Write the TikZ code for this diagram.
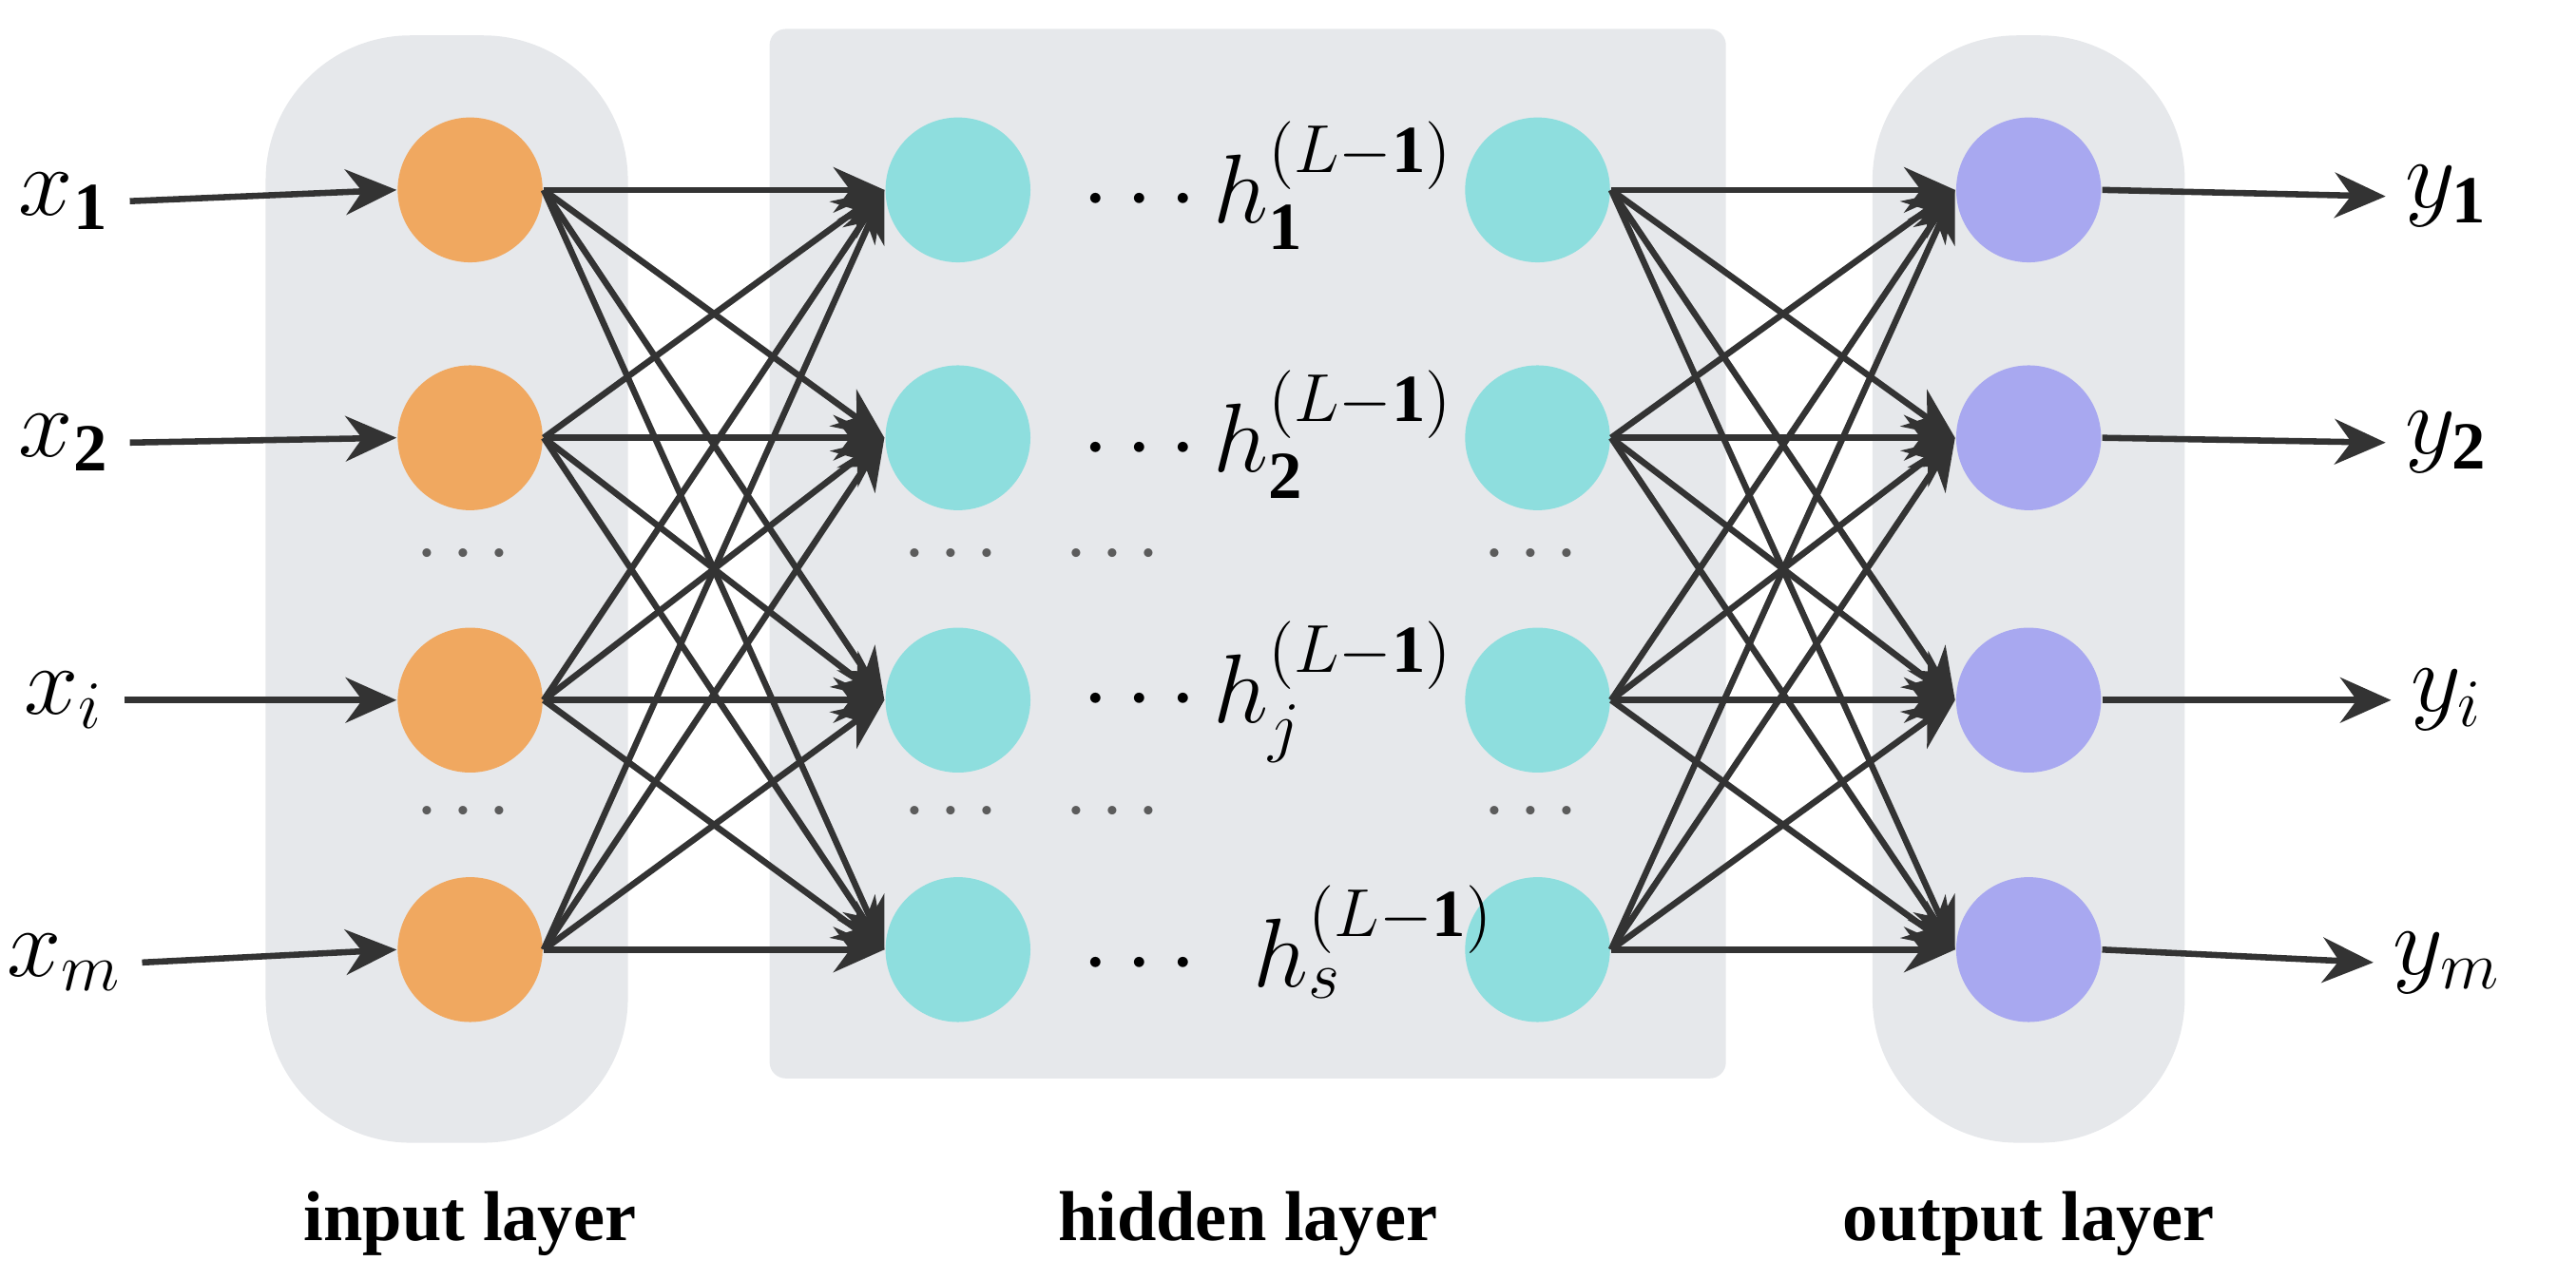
\documentclass[tikz,border=0pt]{standalone}
\usepackage{fontspec}
\setmainfont{Liberation Serif}
\usepackage{amsmath}
\usetikzlibrary{arrows.meta}
\definecolor{inc}{HTML}{F0A860}
\definecolor{hic}{HTML}{8EDEDE}
\definecolor{ouc}{HTML}{A8A8F0}
\definecolor{bgc}{HTML}{E6E8EB}
\definecolor{ac}{HTML}{333333}
\begin{document}
\begin{tikzpicture}[x=1cm,y=-1cm,
  nd/.style={circle,minimum size=0.9cm,inner sep=0pt},
  ar/.style={draw=ac,line width=1.1pt,-{Stealth[length=9pt,width=8pt]}},
  lb/.style={font=\fontsize{17}{20}\selectfont},
  dt/.style={font=\fontsize{14}{17}\selectfont,text=ac!80},
  ly/.style={font=\fontsize{12.5}{15}\selectfont\bfseries}]
\useasboundingbox (0,0) rectangle (16,7.95);
\fill[bgc,rounded corners=0.9cm] (1.65,0.22) rectangle (3.9,7.1);
\fill[bgc,rounded corners=0.1cm] (4.78,0.18) rectangle (10.72,6.7);
\fill[bgc,rounded corners=0.9cm] (11.63,0.22) rectangle (13.57,7.1);
\foreach \n/\y in {1/1.18,2/2.72,3/4.35,4/5.9}{
  \node[nd,fill=inc] (i\n) at (2.92,\y) {};
  \node[nd,fill=hic] (a\n) at (5.95,\y) {};
  \node[nd,fill=hic] (b\n) at (9.55,\y) {};
  \node[nd,fill=ouc] (o\n) at (12.6,\y) {};
}
\node[lb] (x1) at (0.4,1.25) {$x_{\mathbf 1}$};
\node[lb] (x2) at (0.4,2.75) {$x_{\mathbf 2}$};
\node[lb] (x3) at (0.4,4.35) {$x_i$};
\node[lb] (x4) at (0.4,5.98) {$x_m$};
\node[lb] (y1) at (15.2,1.22) {$y_{\mathbf 1}$};
\node[lb] (y2) at (15.2,2.75) {$y_{\mathbf 2}$};
\node[lb] (y3) at (15.2,4.35) {$y_i$};
\node[lb] (y4) at (15.2,5.98) {$y_m$};
\foreach \n in {1,...,4}{
  \draw[ar] (x\n.east) -- (i\n.west);
  \draw[ar] (o\n.east) -- (y\n.west);
  \foreach \m in {1,...,4}{
    \draw[ar] (i\n.east) -- (a\m.west);
    \draw[ar] (b\n.east) -- (o\m.west);
  }
}
\node[lb,anchor=west] (h1) at (6.6,1.15) {$\cdots h_{\mathbf 1}^{(L-\mathbf 1)}$};
\node[lb,anchor=west] (h2) at (6.6,2.7) {$\cdots h_{\mathbf 2}^{(L-\mathbf 1)}$};
\node[lb,anchor=west] (h3) at (6.6,4.3) {$\cdots h_j^{(L-\mathbf 1)}$};
\node[lb,anchor=west] (h4) at (6.6,5.85) {$\cdots\ \,h_s^{(L-\mathbf 1)}$};
\foreach \y in {3.45,5.05}{
  \node[dt] at (2.92,\y) {$\cdots$};
  \node[dt] at (5.95,\y) {$\cdots$};
  \node[dt] at (6.95,\y) {$\cdots$};
  \node[dt] at (9.55,\y) {$\cdots$};
}
\node[ly] (l1) at (2.92,7.6) {input layer};
\node[ly] (l2) at (7.75,7.6) {hidden layer};
\node[ly] (l3) at (12.6,7.6) {output layer};
\end{tikzpicture}
\end{document}
